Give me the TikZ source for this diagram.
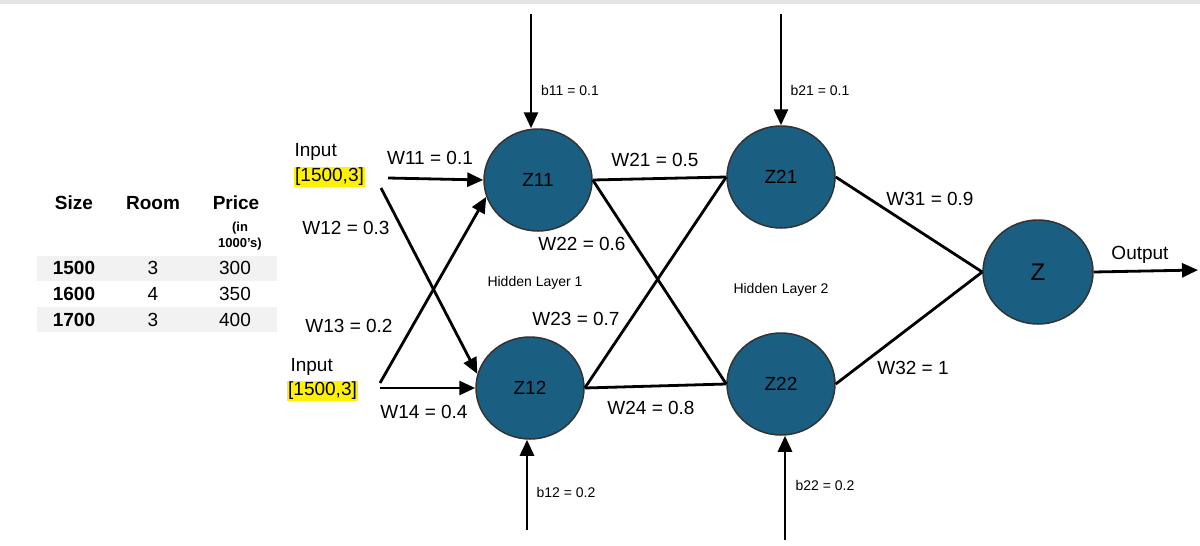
\documentclass[tikz,border=0pt]{standalone}
\usepackage{fontspec}
\setmainfont{Liberation Sans}
\usetikzlibrary{arrows.meta,shapes.geometric}
\definecolor{neuron}{HTML}{1A5E82}
\definecolor{rowgray}{HTML}{F2F2F2}
\begin{document}
\begin{tikzpicture}[x=1pt,y=-1pt]
\tikzstyle{unit} = [ellipse, minimum width=108pt, minimum height=102pt, draw=black!80, line width=1.5pt, fill=neuron, font=\fontsize{19}{22}\selectfont]
\tikzstyle{arrow} = [line width=2.8pt,-{Triangle[length=16pt,width=14pt]}]
\tikzstyle{link} = [line width=2.8pt]
\tikzstyle{wlab} = [font=\fontsize{19}{22}\selectfont]
\tikzstyle{blab} = [font=\fontsize{14}{16}\selectfont]
\tikzstyle{hlab} = [font=\bfseries\fontsize{19}{22}\selectfont]
\tikzstyle{inp} = [fill=yellow, inner sep=1pt, font=\fontsize{19}{22}\selectfont]
\useasboundingbox (0,0) rectangle (1200,546);
\fill[black!10] (0,0) rectangle (1200,4);

%table
\fill[rowgray] (37,256) rectangle (277,281);
\fill[rowgray] (37,307) rectangle (277,332);
\node (TS) [hlab] at (74,203) {Size};
\node (TR) [hlab] at (153,203) {Room};
\node (TP) [hlab] at (236,203) {Price};
\node (TU) [font=\bfseries\fontsize{13}{16}\selectfont, align=center] at (240,236) {(in\\1000’s)};
\node (R1) [hlab] at (74,268) {1500};
\node (R2) [hlab] at (74,294) {1600};
\node (R3) [hlab] at (74,320) {1700};
\node (C1) [wlab] at (153,268) {3};
\node (C2) [wlab] at (153,294) {4};
\node (C3) [wlab] at (153,320) {3};
\node (P1) [wlab] at (235,268) {300};
\node (P2) [wlab] at (235,294) {350};
\node (P3) [wlab] at (235,320) {400};

%neurons
\node (Z11) [unit] at (538,180) {Z11};
\node (Z12) [unit] at (530,388) {Z12};
\node (Z21) [unit] at (781,177) {Z21};
\node (Z22) [unit] at (781,384) {Z22};
\node (Z) [unit, minimum width=110pt, minimum height=104pt, font=\fontsize{24}{28}\selectfont] at (1038,272) {Z};

%inputs
\node (IL1) [wlab, anchor=west] at (291,152) {Input};
\node (IV1) [inp, anchor=west] at (294,177) {[1500,3]};
\node (IL2) [wlab, anchor=west] at (287,367) {Input};
\node (IV2) [inp, anchor=west] at (287,391) {[1500,3]};
\coordinate (I1) at (388,178);
\coordinate (I1b) at (381,188);
\coordinate (I2) at (380,388);
\coordinate (I2b) at (380,383);
\coordinate (B11) at (531,14);
\coordinate (B21) at (781,14);
\coordinate (B12) at (527,530);
\coordinate (B22) at (785,540);
\coordinate (Out) at (1198,270);

\draw [arrow] (I1) -- (Z11.west);
\draw [arrow] (I1b) -- (Z12.165);
\draw [arrow] (I2) -- (Z12.west);
\draw [arrow] (I2b) -- (Z11.198);
\draw [arrow] (B11) -- (B11 |- Z11.north);
\draw [arrow] (B21) -- (B21 |- Z21.north);
\draw [arrow] (B12) -- (B12 |- Z12.south);
\draw [arrow] (B22) -- (B22 |- Z22.south);
\draw [link] (Z11.east) -- (Z21.west);
\draw [link] (Z11.east) -- (Z22.west);
\draw [link] (Z12.east) -- (Z21.west);
\draw [link] (Z12.east) -- (Z22.west);
\draw [link] (Z21.east) -- (Z.west);
\draw [link] (Z22.east) -- (Z.west);
\draw [arrow] (Z.east) -- (Out);

%labels
\node (W11) [wlab] at (430,158) {W11 = 0.1};
\node (W12) [wlab] at (346,228) {W12 = 0.3};
\node (W13) [wlab] at (349,326) {W13 = 0.2};
\node (W14) [wlab] at (424,412) {W14 = 0.4};
\node (W21) [wlab] at (655,160) {W21 = 0.5};
\node (W22) [wlab] at (582,244) {W22 = 0.6};
\node (W23) [wlab] at (576,319) {W23 = 0.7};
\node (W24) [wlab] at (651,408) {W24 = 0.8};
\node (W31) [wlab] at (930,199) {W31 = 0.9};
\node (W32) [wlab] at (913,368) {W32 = 1};
\node (Lb11) [blab] at (570,90) {b11 = 0.1};
\node (Lb21) [blab] at (820,90) {b21 = 0.1};
\node (Lb12) [blab] at (566,492) {b12 = 0.2};
\node (Lb22) [blab] at (825,485) {b22 = 0.2};
\node (H1) [blab] at (535,283) {Hidden Layer 1};
\node (H2) [blab] at (781,290) {Hidden Layer 2};
\node (LOut) [wlab] at (1140,255) {Output};
\end{tikzpicture}
\end{document}
